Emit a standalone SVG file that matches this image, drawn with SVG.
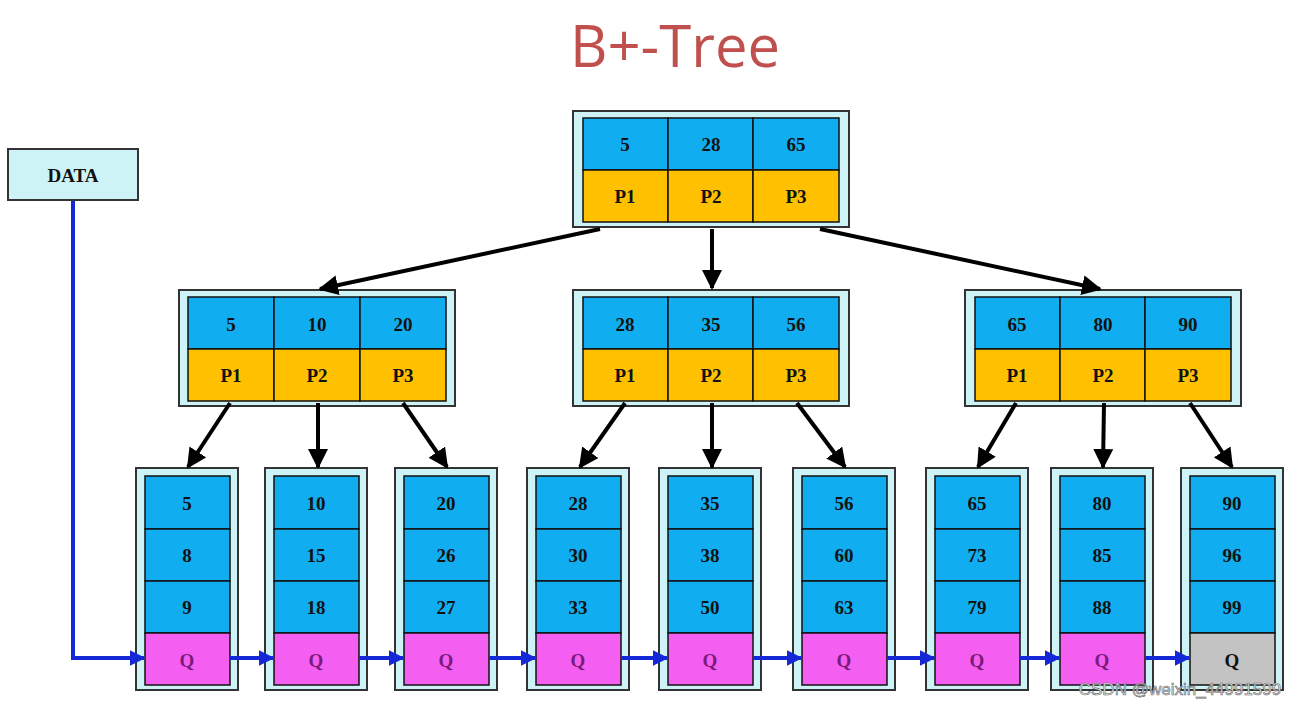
<svg xmlns="http://www.w3.org/2000/svg" width="1311" height="708" viewBox="0 0 1311 708">
<defs>
<marker id="ab" viewBox="0 0 10 10" refX="9" refY="5" markerWidth="5" markerHeight="5" orient="auto"><path d="M0,0L10,5L0,10z" fill="#000"/></marker>
<marker id="au" viewBox="0 0 10 10" refX="9" refY="5" markerWidth="4" markerHeight="4" orient="auto"><path d="M0,0L10,5L0,10z" fill="#1428d8"/></marker>
</defs>
<style>
.o{fill:#cdf3f7;stroke:#333;stroke-width:2}
.b{fill:#10aef0;stroke:#111;stroke-width:1.5}
.y{fill:#ffc000;stroke:#111;stroke-width:1.5}
.m{fill:#f45ff2;stroke:#111;stroke-width:1.5}
.g{fill:#c3c3c3;stroke:#111;stroke-width:1.5}
text{font-family:"Liberation Serif",serif;font-weight:bold;font-size:19px;text-anchor:middle;fill:#111}
.k{stroke:#000;stroke-width:4;fill:none;marker-end:url(#ab)}
.u{stroke:#1428d8;stroke-width:4;fill:none;marker-end:url(#au)}
</style>
<rect width="1311" height="708" fill="#fff"/>
<text x="675" y="67" style="font-family:'Open Sans','Liberation Sans',sans-serif;font-weight:normal;font-size:58px;fill:#c0504d">B+-Tree</text>
<g id="data"><rect x="8" y="149" width="130" height="51" class="o"/><text x="73" y="182">DATA</text></g>
<g id="root"><rect x="573" y="111" width="276" height="116" class="o"/>
<rect x="583" y="118" width="85" height="52" class="b"/><rect x="668" y="118" width="85" height="52" class="b"/><rect x="753" y="118" width="86" height="52" class="b"/>
<rect x="583" y="170" width="85" height="52" class="y"/><rect x="668" y="170" width="85" height="52" class="y"/><rect x="753" y="170" width="86" height="52" class="y"/>
<text x="625" y="151">5</text><text x="711" y="151">28</text><text x="796" y="151">65</text>
<text x="625" y="203">P1</text><text x="711" y="203">P2</text><text x="796" y="203">P3</text></g>
<g id="m1"><rect x="179" y="290" width="276" height="116" class="o"/>
<rect x="188" y="297" width="86" height="52" class="b"/><rect x="274" y="297" width="86" height="52" class="b"/><rect x="360" y="297" width="86" height="52" class="b"/>
<rect x="188" y="349" width="86" height="52" class="y"/><rect x="274" y="349" width="86" height="52" class="y"/><rect x="360" y="349" width="86" height="52" class="y"/>
<text x="231" y="331">5</text><text x="317" y="331">10</text><text x="403" y="331">20</text>
<text x="231" y="382">P1</text><text x="317" y="382">P2</text><text x="403" y="382">P3</text></g>
<g id="m2"><rect x="573" y="290" width="276" height="116" class="o"/>
<rect x="583" y="297" width="85" height="52" class="b"/><rect x="668" y="297" width="85" height="52" class="b"/><rect x="753" y="297" width="86" height="52" class="b"/>
<rect x="583" y="349" width="85" height="52" class="y"/><rect x="668" y="349" width="85" height="52" class="y"/><rect x="753" y="349" width="86" height="52" class="y"/>
<text x="625" y="331">28</text><text x="711" y="331">35</text><text x="796" y="331">56</text>
<text x="625" y="382">P1</text><text x="711" y="382">P2</text><text x="796" y="382">P3</text></g>
<g id="m3"><rect x="965" y="290" width="276" height="116" class="o"/>
<rect x="975" y="297" width="85" height="52" class="b"/><rect x="1060" y="297" width="85" height="52" class="b"/><rect x="1145" y="297" width="86" height="52" class="b"/>
<rect x="975" y="349" width="85" height="52" class="y"/><rect x="1060" y="349" width="85" height="52" class="y"/><rect x="1145" y="349" width="86" height="52" class="y"/>
<text x="1017" y="331">65</text><text x="1103" y="331">80</text><text x="1188" y="331">90</text>
<text x="1017" y="382">P1</text><text x="1103" y="382">P2</text><text x="1188" y="382">P3</text></g>
<g id="l1" transform="translate(136,0)"><rect x="0" y="468" width="102" height="222" class="o"/><rect x="9" y="476" width="85" height="53" class="b"/><rect x="9" y="529" width="85" height="52" class="b"/><rect x="9" y="581" width="85" height="52" class="b"/><rect x="9" y="633" width="85" height="52" class="m"/><text x="51" y="510">5</text><text x="51" y="562">8</text><text x="51" y="614">9</text><text x="51" y="667" style="fill:#7a1a7a">Q</text></g>
<g id="l2" transform="translate(265,0)"><rect x="0" y="468" width="102" height="222" class="o"/><rect x="9" y="476" width="85" height="53" class="b"/><rect x="9" y="529" width="85" height="52" class="b"/><rect x="9" y="581" width="85" height="52" class="b"/><rect x="9" y="633" width="85" height="52" class="m"/><text x="51" y="510">10</text><text x="51" y="562">15</text><text x="51" y="614">18</text><text x="51" y="667" style="fill:#7a1a7a">Q</text></g>
<g id="l3" transform="translate(395,0)"><rect x="0" y="468" width="102" height="222" class="o"/><rect x="9" y="476" width="85" height="53" class="b"/><rect x="9" y="529" width="85" height="52" class="b"/><rect x="9" y="581" width="85" height="52" class="b"/><rect x="9" y="633" width="85" height="52" class="m"/><text x="51" y="510">20</text><text x="51" y="562">26</text><text x="51" y="614">27</text><text x="51" y="667" style="fill:#7a1a7a">Q</text></g>
<g id="l4" transform="translate(527,0)"><rect x="0" y="468" width="102" height="222" class="o"/><rect x="9" y="476" width="85" height="53" class="b"/><rect x="9" y="529" width="85" height="52" class="b"/><rect x="9" y="581" width="85" height="52" class="b"/><rect x="9" y="633" width="85" height="52" class="m"/><text x="51" y="510">28</text><text x="51" y="562">30</text><text x="51" y="614">33</text><text x="51" y="667" style="fill:#7a1a7a">Q</text></g>
<g id="l5" transform="translate(659,0)"><rect x="0" y="468" width="102" height="222" class="o"/><rect x="9" y="476" width="85" height="53" class="b"/><rect x="9" y="529" width="85" height="52" class="b"/><rect x="9" y="581" width="85" height="52" class="b"/><rect x="9" y="633" width="85" height="52" class="m"/><text x="51" y="510">35</text><text x="51" y="562">38</text><text x="51" y="614">50</text><text x="51" y="667" style="fill:#7a1a7a">Q</text></g>
<g id="l6" transform="translate(793,0)"><rect x="0" y="468" width="102" height="222" class="o"/><rect x="9" y="476" width="85" height="53" class="b"/><rect x="9" y="529" width="85" height="52" class="b"/><rect x="9" y="581" width="85" height="52" class="b"/><rect x="9" y="633" width="85" height="52" class="m"/><text x="51" y="510">56</text><text x="51" y="562">60</text><text x="51" y="614">63</text><text x="51" y="667" style="fill:#7a1a7a">Q</text></g>
<g id="l7" transform="translate(926,0)"><rect x="0" y="468" width="102" height="222" class="o"/><rect x="9" y="476" width="85" height="53" class="b"/><rect x="9" y="529" width="85" height="52" class="b"/><rect x="9" y="581" width="85" height="52" class="b"/><rect x="9" y="633" width="85" height="52" class="m"/><text x="51" y="510">65</text><text x="51" y="562">73</text><text x="51" y="614">79</text><text x="51" y="667" style="fill:#7a1a7a">Q</text></g>
<g id="l8" transform="translate(1051,0)"><rect x="0" y="468" width="102" height="222" class="o"/><rect x="9" y="476" width="85" height="53" class="b"/><rect x="9" y="529" width="85" height="52" class="b"/><rect x="9" y="581" width="85" height="52" class="b"/><rect x="9" y="633" width="85" height="52" class="m"/><text x="51" y="510">80</text><text x="51" y="562">85</text><text x="51" y="614">88</text><text x="51" y="667" style="fill:#7a1a7a">Q</text></g>
<g id="l9" transform="translate(1181,0)"><rect x="0" y="468" width="102" height="222" class="o"/><rect x="9" y="476" width="85" height="53" class="b"/><rect x="9" y="529" width="85" height="52" class="b"/><rect x="9" y="581" width="85" height="52" class="b"/><rect x="9" y="633" width="85" height="52" class="g"/><text x="51" y="510">90</text><text x="51" y="562">96</text><text x="51" y="614">99</text><text x="51" y="667">Q</text></g>
<g id="connectors">
<path class="k" d="M600,229L320,289"/><path class="k" d="M712,229L712,288"/><path class="k" d="M820,229L1100,289"/>
<path class="k" d="M230,403L188,467"/><path class="k" d="M318,403L318,467"/><path class="k" d="M403,403L447,467"/>
<path class="k" d="M625,403L580,467"/><path class="k" d="M712,403L712,467"/><path class="k" d="M797,403L845,467"/>
<path class="k" d="M1016,403L978,467"/><path class="k" d="M1104,403L1103,467"/><path class="k" d="M1190,403L1232,467"/>
<path class="u" d="M73,201V658H144"/>
<path class="u" d="M230,658H273"/><path class="u" d="M359,658H403"/><path class="u" d="M489,658H535"/><path class="u" d="M621,658H667"/><path class="u" d="M753,658H801"/><path class="u" d="M887,658H934"/><path class="u" d="M1020,658H1059"/><path class="u" d="M1145,658H1189"/>
</g>
<text x="1180" y="695" style="font-family:'Liberation Sans',sans-serif;font-weight:normal;font-size:17px;fill:#e8e8e8;stroke:#666;stroke-width:0.6">CSDN @weixin_44991599</text>
</svg>
